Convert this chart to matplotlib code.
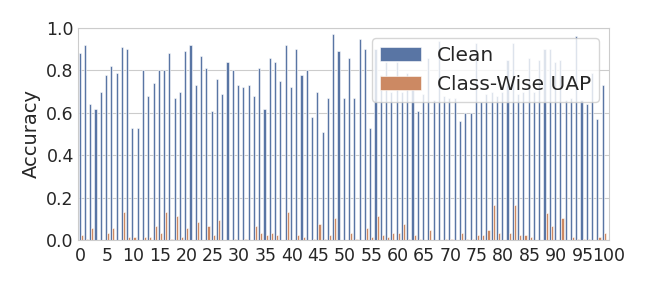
import numpy as np
import matplotlib
matplotlib.use('Agg')
import matplotlib.pyplot as plt
import seaborn as sns

# accuracy per class
classes = np.arange(100)
clean = [0.88, 0.92, 0.64, 0.62, 0.70, 0.78, 0.82, 0.79, 0.91, 0.90,
         0.53, 0.53, 0.80, 0.68, 0.74, 0.80, 0.80, 0.88, 0.67, 0.70,
         0.89, 0.92, 0.73, 0.87, 0.81, 0.61, 0.76, 0.69, 0.84, 0.80,
         0.73, 0.72, 0.73, 0.68, 0.81, 0.62, 0.86, 0.84, 0.75, 0.92,
         0.72, 0.90, 0.78, 0.80, 0.58, 0.70, 0.51, 0.67, 0.97, 0.89,
         0.67, 0.86, 0.67, 0.95, 0.90, 0.53, 0.90, 0.78, 0.84, 0.70,
         0.84, 0.70, 0.79, 0.72, 0.61, 0.69, 0.86, 0.66, 0.94, 0.68,
         0.67, 0.67, 0.56, 0.60, 0.60, 0.93, 0.65, 0.69, 0.70, 0.68,
         0.70, 0.85, 0.93, 0.69, 0.70, 0.86, 0.70, 0.85, 0.90, 0.90,
         0.84, 0.85, 0.66, 0.67, 0.96, 0.66, 0.64, 0.79, 0.57, 0.73]
uap = [0.025, 0.006, 0.057, 0.0, 0.0, 0.035, 0.057, 0.0, 0.13, 0.014,
       0.014, 0.0, 0.014, 0.014, 0.066, 0.035, 0.13, 0.005, 0.115, 0.014,
       0.057, 0.0, 0.087, 0.0, 0.066, 0.024, 0.094, 0.0, 0.0, 0.005,
       0.0, 0.005, 0.0, 0.066, 0.035, 0.024, 0.035, 0.024, 0.0, 0.13,
       0.0, 0.024, 0.014, 0.0, 0.005, 0.077, 0.005, 0.024, 0.104, 0.0,
       0.0, 0.035, 0.005, 0.0, 0.057, 0.014, 0.113, 0.024, 0.014, 0.035,
       0.035, 0.077, 0.005, 0.024, 0.005, 0.0, 0.047, 0.0, 0.0, 0.005,
       0.005, 0.0, 0.035, 0.005, 0.005, 0.024, 0.024, 0.047, 0.165, 0.031,
       0.0, 0.031, 0.165, 0.024, 0.024, 0.014, 0.0, 0.0, 0.129, 0.066,
       0.0, 0.104, 0.0, 0.014, 0.005, 0.005, 0.005, 0.0, 0.014, 0.035]
labels = ['Clean', 'Class-Wise UAP']

sns.set_style('whitegrid')
deep = sns.color_palette('deep')
c_clean = sns.desaturate(deep[0], 0.75)
c_uap = sns.desaturate(deep[1], 0.75)

fig = plt.figure(figsize=(6.48, 2.88), dpi=100)
ax = fig.add_axes([0.1204, 0.1667, 0.8194, 0.7361])

w = 0.4
ax.bar(classes - w / 2, clean, w, color=c_clean, edgecolor='white', linewidth=0.4, label=labels[0])
ax.bar(classes + w / 2, uap, w, color=c_uap, edgecolor='white', linewidth=0.4, label=labels[1])

ax.set_xlim(-0.5, 99.5)
ax.set_xticks(range(0, 101, 5))
ax.set_ylim(0, 1.0)
ax.set_yticks(np.arange(0, 1.01, 0.2))
ax.xaxis.grid(False)
ax.tick_params(axis='both', labelsize=12.5, length=0)
ax.tick_params(axis='x', pad=5)
ax.tick_params(axis='y', pad=3)
ax.set_ylabel('Accuracy', fontsize=14)
ax.legend(loc='upper right', fontsize=14.5)

fig.savefig('out.png', dpi=100)
